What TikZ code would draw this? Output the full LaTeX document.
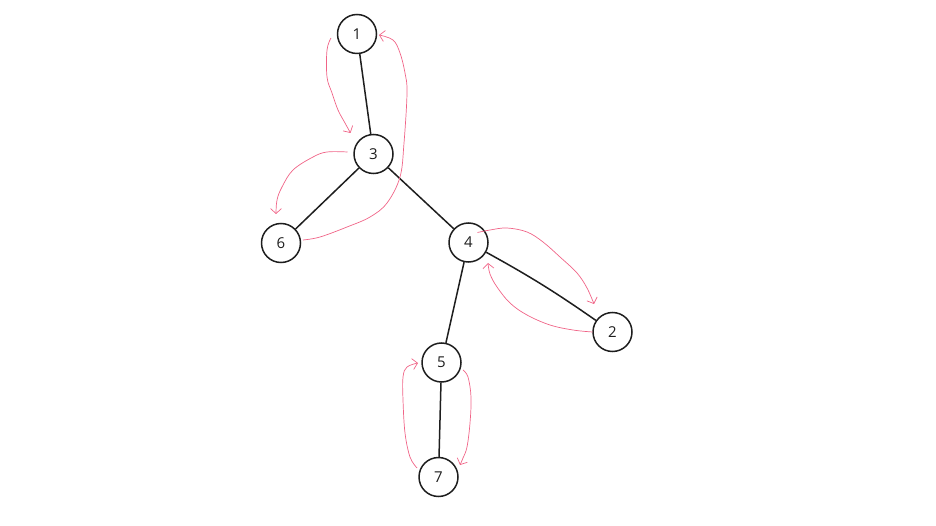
\documentclass[tikz,border=0pt]{standalone}
\usepackage{fontspec}
\setmainfont{Open Sans}
\usetikzlibrary{calc,arrows.meta}
\definecolor{ink}{HTML}{1E1E1E}
\definecolor{pk}{RGB}{240,100,135}
\tikzset{
  vtx/.style={circle,draw=ink,line width=1.5pt,minimum size=39pt,inner sep=0pt,fill=white,font=\fontsize{15}{18}\selectfont,text=ink},
  edge/.style={draw=ink,line width=1.5pt},
  trav/.style={draw=pk,line width=0.7pt,-{Straight Barb[length=5pt,width=11pt]}}
}
\begin{document}
\begin{tikzpicture}[x=1pt,y=-1pt]
\useasboundingbox (0,0) rectangle (936,526);
\node[vtx] (n1) at (357,34) {1};
\node[vtx] (n3) at (373.5,154) {3};
\node[vtx] (n6) at (281,243) {6};
\node[vtx] (n4) at (468.5,242.5) {4};
\node[vtx] (n2) at (612.5,332) {2};
\node[vtx] (n5) at (441.5,362.5) {5};
\node[vtx] (n7) at (438.5,477) {7};
\draw[edge] (n1) -- (n3);
\draw[edge] (n3) -- (n6);
\draw[edge] (n3) -- (n4);
\draw[edge] (n4) to[bend left=3] (n2);
\draw[edge] (n4) -- (n5);
\draw[edge] (n5) -- (n7);
% traversal arrows
\draw[trav] plot[smooth,tension=0.6] coordinates {($(n1)+(-26,4)$) (327,50) (327,77) (332,93) (338,110) (345,123) ($(n3)+(-23,-21)$)};
\draw[trav] plot[smooth,tension=0.6] coordinates {($(n6)+(22,-3)$) (320,237) (347,227) (370,217) (387,203) (400,177) (404,143) (407,93) (405,73) (400,53) (393,40) ($(n1)+(22,1)$)};
\draw[trav] plot[smooth,tension=0.6] coordinates {($(n3)+(-26,-2)$) (327,152) (313,157) (293,170) (282,187) (277,200) ($(n6)+(-5,-29)$)};
\draw[trav] plot[smooth,tension=0.6] coordinates {($(n4)+(9,-10)$) (490,230) (507,228) (527,232) (543,242) (560,257) (577,273) (587,288) ($(n2)+(-18.5,-28)$)};
\draw[trav] plot[smooth,tension=0.6] coordinates {($(n2)+(-20,0)$) (573,330) (550,325) (527,315) (510,303) (497,287) (490,274) ($(n4)+(19.5,20.5)$)};
\draw[trav] plot[smooth,tension=0.6] coordinates {($(n5)+(21.5,7.5)$) (468,377) (471,397) (470,423) (467,447) (463,458) ($(n7)+(21.5,-12)$)};
\draw[trav] plot[smooth,tension=0.6] coordinates {($(n7)+(-21.5,-9)$) (410,457) (405,433) (403,400) (403,377) (407,367) ($(n5)+(-23.5,0.5)$)};
\end{tikzpicture}
\end{document}
